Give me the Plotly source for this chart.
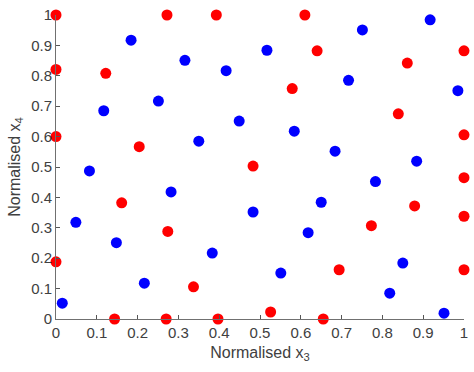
import plotly.graph_objects as go

red_x = [0.0, 0.272, 0.393, 0.610, 0.0, 0.122, 0.640, 1.0, 0.861, 0.0,
         0.204, 0.579, 0.839, 1.0, 0.483, 0.161, 0.274, 0.0, 0.337, 0.1436,
         0.270, 0.397, 1.0, 0.879, 1.0, 0.773, 0.694, 1.0, 0.526, 0.655]
red_y = [1.0, 1.0, 1.0, 1.0, 0.821, 0.808, 0.882, 0.882, 0.842, 0.600,
         0.567, 0.758, 0.675, 0.606, 0.503, 0.382, 0.288, 0.188, 0.106, 0.0,
         0.0, 0.0, 0.465, 0.372, 0.338, 0.307, 0.162, 0.162, 0.023, 0.0]

blue_x = [0.184, 0.316, 0.417, 0.117, 0.251, 0.449, 0.350, 0.082, 0.517, 0.751,
          0.917, 0.717, 0.985, 0.584, 0.684, 0.884, 0.783, 0.650, 0.483, 0.618,
          0.551, 0.850, 0.818, 0.951, 0.282, 0.0487, 0.148, 0.383, 0.2165, 0.0154]
blue_y = [0.917, 0.851, 0.817, 0.685, 0.717, 0.651, 0.585, 0.487, 0.884, 0.951,
          0.984, 0.785, 0.751, 0.618, 0.552, 0.519, 0.452, 0.384, 0.352, 0.284,
          0.151, 0.184, 0.085, 0.019, 0.418, 0.318, 0.251, 0.217, 0.118, 0.052]

tick_vals = [0, 0.1, 0.2, 0.3, 0.4, 0.5, 0.6, 0.7, 0.8, 0.9, 1]
tick_text = ["0", "0.1", "0.2", "0.3", "0.4", "0.5", "0.6", "0.7", "0.8", "0.9", "1"]

x_title = "Normalised x<sub>3</sub>"
y_title = "Normalised x<sub>4</sub>"

fig = go.Figure()
fig.add_trace(go.Scatter(x=blue_x, y=blue_y, mode="markers",
                         marker=dict(color="#0000FF", size=11, line=dict(width=0)),
                         cliponaxis=False, showlegend=False))
fig.add_trace(go.Scatter(x=red_x, y=red_y, mode="markers",
                         marker=dict(color="#FF0000", size=11, line=dict(width=0)),
                         cliponaxis=False, showlegend=False))

font_family = "Liberation Sans, Arial, sans-serif"
axis_common = dict(range=[0, 1], tickmode="array", tickvals=tick_vals, ticktext=tick_text,
                   ticks="inside", ticklen=4, ticklabeloverflow="allow",
                   tickcolor="#555555", showline=True, linecolor="#707070",
                   linewidth=1, showgrid=False, zeroline=False,
                   tickfont=dict(family=font_family, size=15, color="#404040"),
                   mirror=False)

fig.update_layout(
    width=474, height=372,
    margin=dict(l=56, r=7, t=6, b=53),
    paper_bgcolor="white", plot_bgcolor="white",
    xaxis=dict(**axis_common,
               title=dict(text=x_title, standoff=6,
                          font=dict(family=font_family, size=16, color="#404040"))),
    yaxis=dict(**axis_common,
               title=dict(text=y_title, standoff=6,
                          font=dict(family=font_family, size=16, color="#404040"))),
)

fig.write_html("out.html")
